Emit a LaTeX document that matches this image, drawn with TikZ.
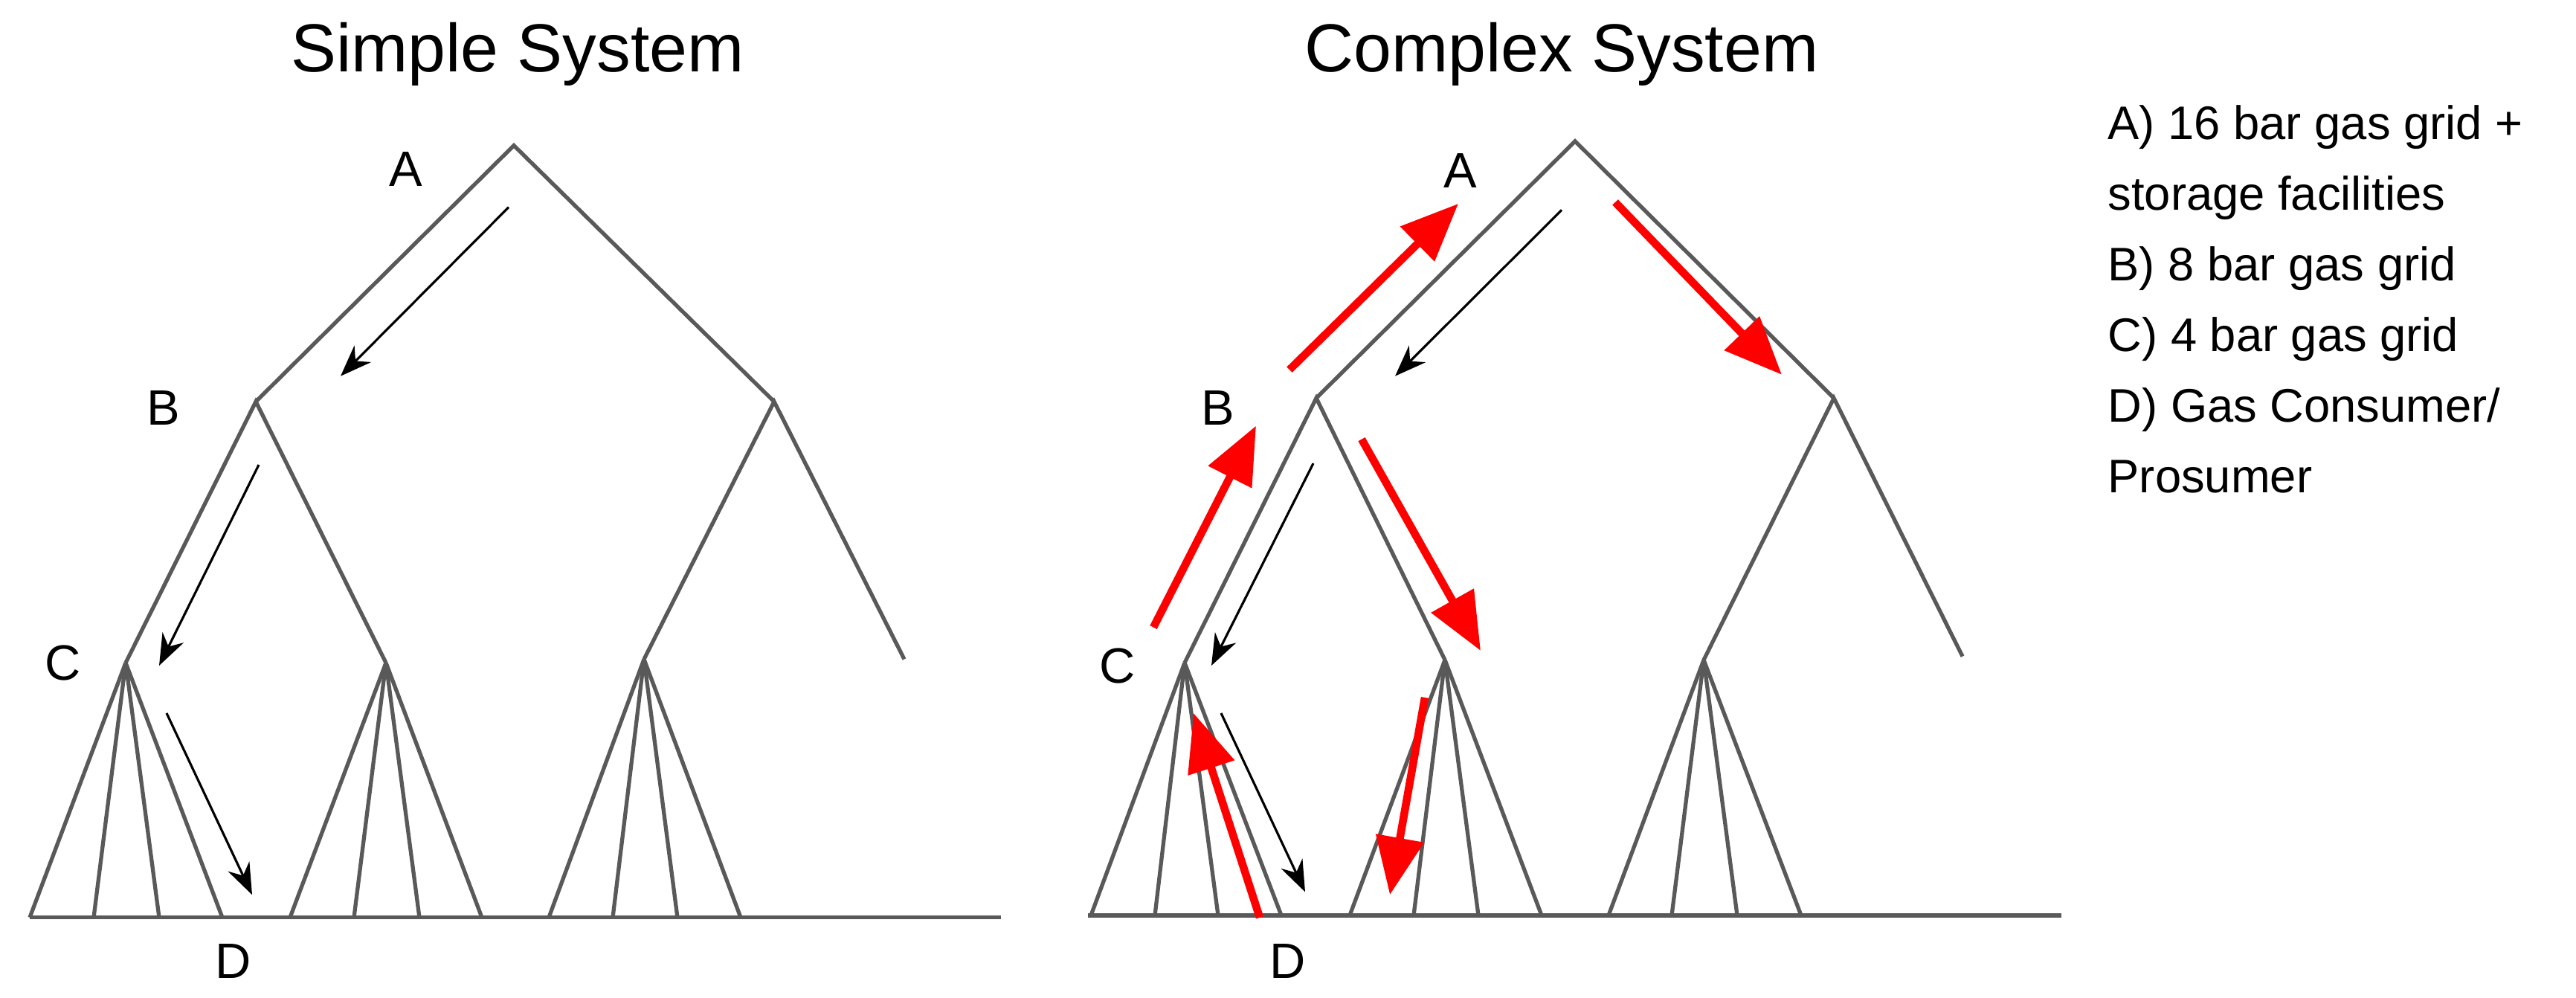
\documentclass[tikz,border=0pt]{standalone}
\usepackage{fontspec}
\setmainfont{Liberation Sans}
\usepackage{tikz}
\usetikzlibrary{arrows.meta}

\tikzset{
  pipe/.style={draw=black!65, line width=1.5pt},
  lbl/.style={font=\fontsize{19}{21}\selectfont},
  flow/.style={draw=black, line width=0.9pt, -{Stealth[length=12pt,width=9pt]}},
  back/.style={draw=red, line width=3pt, -{Triangle[length=22pt,width=18pt]}}
}

\begin{document}
\begin{tikzpicture}[x=0.01cm, y=-0.00953cm]
\useasboundingbox (0,0) rectangle (3464,1406);

% simple system
\node [font=\fontsize{26}{30}\selectfont] (t1) at (696,76) {Simple System};
\coordinate (a1) at (691,205);
\coordinate (b1) at (344,566);
\coordinate (b2) at (1041,566);
\coordinate (c1) at (169,934);
\coordinate (c2) at (519,934);
\coordinate (c3) at (866,929);
\coordinate (e1) at (1216,929);
\draw [pipe] (b1) -- (a1) -- (b2);
\draw [pipe] (c1) -- (b1) -- (c2);
\draw [pipe] (c3) -- (b2) -- (e1);
\foreach \c/\p/\q/\r/\s in {c1/40/126/214/299, c2/390/476/564/648, c3/738/824/911/996}
  \foreach \x in {\p,\q,\r,\s}
    \draw [pipe] (\c) -- (\x,1293);
\draw [pipe] (40,1293) -- (1346,1293);
\node [lbl] (la1) at (546,238) {A};
\node [lbl] (lb1) at (220,575) {B};
\node [lbl] (lc1) at (85,934) {C};
\node [lbl] (ld1) at (314,1355) {D};
\coordinate (f1) at (684,292);   \coordinate (g1) at (458,530);
\coordinate (f2) at (348,655);   \coordinate (g2) at (214,938);
\coordinate (f3) at (224,1005);  \coordinate (g3) at (339,1261);
\draw [flow] (f1) -- (g1);
\draw [flow] (f2) -- (g2);
\draw [flow] (f3) -- (g3);

% complex system
\node [font=\fontsize{26}{30}\selectfont] (t2) at (2100,76) {Complex System};
\coordinate (A1) at (2118,199);
\coordinate (B1) at (1770,561);
\coordinate (B2) at (2466,561);
\coordinate (C1) at (1593,934);
\coordinate (C2) at (1943,930);
\coordinate (C3) at (2291,930);
\coordinate (E1) at (2639,925);
\draw [pipe] (B1) -- (A1) -- (B2);
\draw [pipe] (C1) -- (B1) -- (C2);
\draw [pipe] (C3) -- (B2) -- (E1);
\foreach \c/\p/\q/\r/\s in {C1/1467/1553/1638/1723, C2/1815/1901/1988/2073, C3/2163/2248/2336/2422}
  \foreach \x in {\p,\q,\r,\s}
    \draw [pipe] (\c) -- (\x,1290);
\draw [pipe] (1463,1290) -- (2772,1290);
\node [lbl] (la2) at (1964,241) {A};
\node [lbl] (lb2) at (1638,575) {B};
\node [lbl] (lc2) at (1503,938) {C};
\node [lbl] (ld2) at (1732,1355) {D};
\coordinate (F1) at (2100,296);  \coordinate (G1) at (1876,530);
\coordinate (F2) at (1766,653);  \coordinate (G2) at (1629,938);
\coordinate (F3) at (1642,1005); \coordinate (G3) at (1755,1257);
\draw [flow] (F1) -- (G1);
\draw [flow] (F2) -- (G2);
\draw [flow] (F3) -- (G3);
\coordinate (r1) at (1734,521);  \coordinate (s1) at (1961,287);
\coordinate (r2) at (2172,285);  \coordinate (s2) at (2396,528);
\coordinate (r3) at (1551,884);  \coordinate (s3) at (1689,600);
\coordinate (r4) at (1831,619);  \coordinate (s4) at (1991,917);
\coordinate (r5) at (1916,983);  \coordinate (s5) at (1869,1261);
\coordinate (r6) at (1694,1293); \coordinate (s6) at (1605,1005);
\foreach \i in {1,...,6}
  \draw [back] (r\i) -- (s\i);

% legend
\node [anchor=north west, align=left, inner sep=0pt,
  font=\fontsize{18}{27}\selectfont] (key) at (2834,148)
  {A) 16 bar gas grid +\\storage facilities\\B) 8 bar gas grid\\C) 4 bar gas grid\\D) Gas Consumer/\\Prosumer};
\end{tikzpicture}
\end{document}
